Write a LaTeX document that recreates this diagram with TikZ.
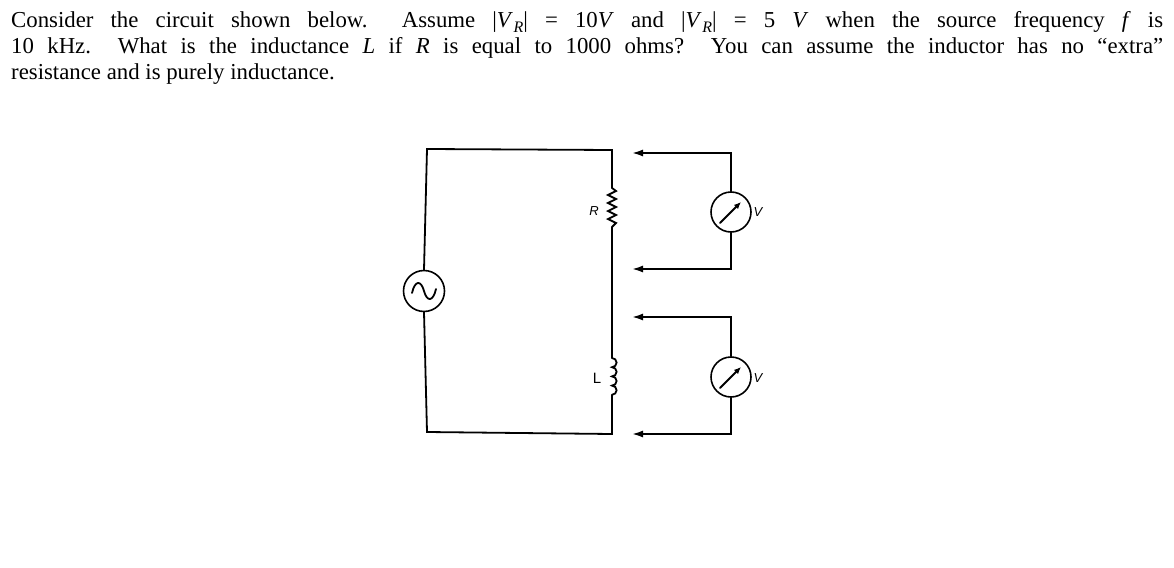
\documentclass[tikz,border=0pt]{standalone}
\usepackage{fontspec}
\setmainfont{Liberation Serif}
\setsansfont{Liberation Sans}
\usetikzlibrary{arrows.meta,calc}
\newcommand{\vr}{|\textit{V}\kern0.5pt\raisebox{-0.25em}{\fontsize{16}{16}\selectfont\textit{R}}|}
\begin{document}
\begin{tikzpicture}[x=1pt,y=-1pt,
  wire/.style={line width=1.8pt,line cap=round},
  meter/.style={circle,draw,line width=1.6pt,minimum size=40pt,inner sep=0pt},
  lab/.style={font=\sffamily\fontsize{12}{12}\selectfont},
  probe/.style={wire,-{Latex[length=11pt,width=7pt]}}]
\useasboundingbox (0,0) rectangle (1174,567);
\node[anchor=north west,inner sep=0pt,text width=1152pt,align=justify,font=\fontsize{22.8}{26}\selectfont] (txt) at (11,11)
{Consider the circuit shown below.\ \ Assume \vr{} = 10\textit{V} and \vr{} = 5 \textit{V} when the source frequency \textit{f} is\linebreak
10 kHz.\ \ What is the inductance \textit{L} if \textit{R} is equal to 1000 ohms?\ \ You can assume the inductor has no ``extra''\linebreak
resistance and is purely inductance.};
% circuit
\node[meter,minimum size=41pt] (src) at (424,291) {};
\draw[wire] (412,293) .. controls (415,280) and (421,280) .. (424,291) .. controls (427,302) and (433,302) .. (436,289);
\coordinate (tl) at (427,149); \coordinate (tr) at (612,150);
\coordinate (bl) at (427,432); \coordinate (br) at (612,434);
\coordinate (r1) at (612,188); \coordinate (r2) at (612,227);
\coordinate (l1) at (612,358); \coordinate (l2) at (612,395);
\draw[wire] (src.north) -- (tl) -- (tr) -- (r1);
\draw[wire] (r1) -- (616,191) -- (608,195) -- (616,199) -- (608,203) -- (616,207) -- (608,211) -- (616,215) -- (608,219) -- (616,223) -- (r2);
\draw[wire] (r2) -- (l1);
\draw[wire] (l1) arc[start angle=90,end angle=-90,radius=4.6pt]
  arc[start angle=90,end angle=-90,radius=4.6pt]
  arc[start angle=90,end angle=-90,radius=4.6pt]
  arc[start angle=90,end angle=-90,radius=4.6pt];
\draw[wire] (l2) -- (br) -- (bl) -- (src.south);
\node[lab,font=\sffamily\itshape\fontsize{13}{13}\selectfont] (rl) at (594,211) {R};
\node[lab,font=\sffamily\fontsize{15}{15}\selectfont] (ll) at (597,378) {L};
% meters
\node[meter] (m1) at (731,212) {};
\node[meter] (m2) at (731,377) {};
\draw[wire,-{Latex[length=7pt,width=6pt]}] ($(m1)+(-11,11)$) -- ($(m1)+(10,-10)$);
\draw[wire,-{Latex[length=7pt,width=6pt]}] ($(m2)+(-11,11)$) -- ($(m2)+(10,-10)$);
\node[lab,font=\sffamily\itshape\fontsize{13}{13}\selectfont,anchor=west] (v1) at (750,212) {V};
\node[lab,font=\sffamily\itshape\fontsize{13}{13}\selectfont,anchor=west] (v2) at (750,378) {V};
\coordinate (a1) at (632,153); \coordinate (a2) at (632,269);
\coordinate (a3) at (632,317); \coordinate (a4) at (632,434);
\draw[probe] (m1.north) |- (a1);
\draw[probe] (m1.south) |- (a2);
\draw[probe] (m2.north) |- (a3);
\draw[probe] (m2.south) |- (a4);
\end{tikzpicture}
\end{document}
